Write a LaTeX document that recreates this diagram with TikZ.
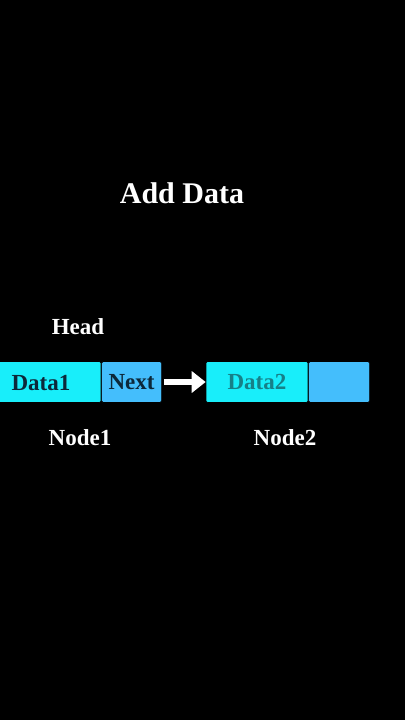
\documentclass[tikz,border=0pt]{standalone}
\usepackage{fontspec}
\setmainfont{Liberation Serif}
\usetikzlibrary{arrows.meta}
\definecolor{cellcyan}{RGB}{24,238,250}
\definecolor{cellblue}{RGB}{68,190,252}
\definecolor{darkink}{RGB}{12,40,58}
\definecolor{tealink}{RGB}{22,128,136}

\begin{document}
\begin{tikzpicture}[
    x=1pt, y=-1pt,
    cell/.style={draw=black, line width=0.6pt, rounded corners=1.5pt, minimum height=41pt, inner sep=0pt},
    datacell/.style={cell, fill=cellcyan, minimum width=102pt},
    nextcell/.style={cell, fill=cellblue},
    label/.style={text=white, font=\bfseries\fontsize{23}{26}\selectfont},
    celltext/.style={font=\bfseries\fontsize{23}{26}\selectfont, inner sep=0pt},
    link/.style={white, line width=6pt, -{Triangle[length=14pt,width=21pt]}},
]
\fill[black] (0,0) rectangle (405,720);
\useasboundingbox (0,0) rectangle (405,720);

\node[text=white, font=\bfseries\fontsize{30}{34}\selectfont] (title) at (182,193) {Add Data};
\node[label] (head) at (78,327) {Head};

% node 1
\node[datacell, minimum width=104pt] (data1) at (49,382) {};
\node[nextcell, minimum width=60pt, anchor=west] (next1) at (data1.east) {};
\node[celltext, text=darkink] (data1txt) at (41,383) {Data1};
\node[celltext, text=darkink] (next1txt) at (next1.center) {Next};

% node 2
\node[datacell] (data2) at (257,382) {};
\node[nextcell, minimum width=61pt, anchor=west] (next2) at (data2.east) {};
\node[celltext, text=tealink] (data2txt) at (data2.center) {Data2};

\draw[link] (next1.east) ++(2,0) coordinate (linkstart) -- (data2.west);

\node[label] (node1) at (80,438) {Node1};
\node[label] (node2) at (285,438) {Node2};
\end{tikzpicture}
\end{document}
